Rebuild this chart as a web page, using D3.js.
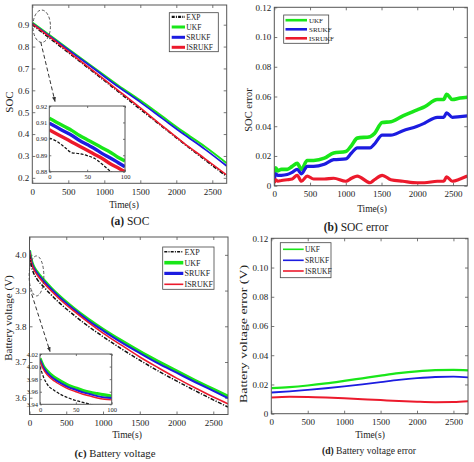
<!DOCTYPE html>
<html>
<head>
<meta charset="utf-8">
<script src="https://cdn.jsdelivr.net/npm/d3@7"></script>
<style>
body { margin: 0; background: #fff; }
text { font-family: "Liberation Serif", "Times New Roman", serif; fill: #222; }
</style>
</head>
<body>
<div id="container"></div>
<script>
let w = 474;
let h = 462;

// ---- DATA ----
let seriesNames = ["EXP", "UKF", "SRUKF", "ISRUKF"];

// (a) SOC
let socTime = [0, 300, 600, 900, 1200, 1500, 1800, 2100, 2400, 2700];
let socExp    = [0.900, 0.824, 0.748, 0.671, 0.593, 0.514, 0.436, 0.358, 0.282, 0.207];
let socUkf    = [0.910, 0.838, 0.765, 0.693, 0.621, 0.554, 0.482, 0.410, 0.342, 0.267];
let socSrukf  = [0.906, 0.834, 0.761, 0.688, 0.615, 0.546, 0.473, 0.400, 0.330, 0.254];
let socIsrukf = [0.904, 0.829, 0.752, 0.675, 0.598, 0.520, 0.439, 0.360, 0.287, 0.213];

// (a) inset, first 100 s
let socInTime   = [0, 10, 20, 30, 40, 50, 60, 70, 80, 90, 100];
let socInExp    = [0.9005, 0.8985, 0.895, 0.8915, 0.891, 0.8898, 0.888, 0.8845, 0.8805, 0.8775, 0.875];
let socInUkf    = [0.9125, 0.910, 0.9075, 0.905, 0.902, 0.8995, 0.897, 0.8945, 0.892, 0.889, 0.8865];
let socInSrukf  = [0.9095, 0.907, 0.9045, 0.902, 0.899, 0.8965, 0.894, 0.891, 0.8885, 0.8858, 0.883];
let socInIsrukf = [0.9055, 0.903, 0.9005, 0.898, 0.8955, 0.893, 0.8905, 0.888, 0.885, 0.8825, 0.880];

// (b) SOC error
let errTime = [0, 20, 50, 100, 180, 250, 320, 380, 460, 550, 700, 830, 1000, 1080, 1160, 1340, 1400, 1510, 1630, 1800, 2000, 2100, 2280, 2370, 2410, 2490, 2600, 2700];
let errUkf    = [0.008, 0.012, 0.010, 0.011, 0.011, 0.013, 0.015, 0.011, 0.017, 0.017, 0.0185, 0.022, 0.023, 0.027, 0.032, 0.033, 0.035, 0.0425, 0.043, 0.047, 0.051, 0.053, 0.058, 0.058, 0.0615, 0.058, 0.059, 0.0595];
let errSrukf  = [0.004, 0.008, 0.007, 0.007, 0.0075, 0.009, 0.011, 0.008, 0.013, 0.013, 0.0145, 0.0175, 0.018, 0.022, 0.0255, 0.0255, 0.028, 0.034, 0.034, 0.037, 0.040, 0.042, 0.046, 0.046, 0.049, 0.046, 0.0465, 0.047];
let errIsrukf = [0.002, 0.004, 0.003, 0.0035, 0.004, 0.0045, 0.007, 0.003, 0.0065, 0.0045, 0.0045, 0.005, 0.003, 0.005, 0.0065, 0.002, 0.004, 0.007, 0.004, 0.003, 0.002, 0.002, 0.003, 0.003, 0.006, 0.003, 0.0045, 0.0065];

// (c) battery voltage
let vTime   = [0, 25, 50, 100, 200, 300, 400, 600, 800, 1000, 1250, 1500, 1750, 2000, 2250, 2500, 2700];
let vExp    = [4.000, 3.968, 3.952, 3.933, 3.909, 3.887, 3.867, 3.832, 3.800, 3.771, 3.737, 3.705, 3.675, 3.647, 3.620, 3.594, 3.574];
let vUkf    = [4.013, 3.985, 3.970, 3.953, 3.928, 3.906, 3.886, 3.851, 3.820, 3.792, 3.760, 3.730, 3.702, 3.675, 3.649, 3.624, 3.604];
let vSrukf  = [4.011, 3.982, 3.967, 3.950, 3.925, 3.903, 3.883, 3.848, 3.816, 3.788, 3.755, 3.725, 3.696, 3.670, 3.644, 3.619, 3.599];
let vIsrukf = [4.009, 3.979, 3.963, 3.945, 3.920, 3.898, 3.878, 3.843, 3.811, 3.781, 3.747, 3.714, 3.684, 3.655, 3.628, 3.602, 3.583];

// (c) inset, first 100 s
let vInTime   = [0, 5, 10, 20, 30, 40, 50, 60, 70, 80, 90, 100];
let vInExp    = [4.000, 3.983, 3.972, 3.962, 3.955, 3.950, 3.946, 3.943, 3.940, 3.937, 3.934, 3.932];
let vInUkf    = [4.013, 4.000, 3.993, 3.983, 3.976, 3.970, 3.966, 3.962, 3.959, 3.957, 3.955, 3.953];
let vInSrukf  = [4.011, 3.998, 3.990, 3.980, 3.973, 3.967, 3.963, 3.959, 3.956, 3.953, 3.951, 3.950];
let vInIsrukf = [4.009, 3.995, 3.987, 3.977, 3.970, 3.964, 3.960, 3.956, 3.953, 3.950, 3.948, 3.947];

// (d) battery voltage error
let vErrTime   = [0, 250, 500, 750, 1000, 1250, 1500, 1750, 2000, 2250, 2500, 2700];
let vErrUkf    = [0.0175, 0.0182, 0.0193, 0.0207, 0.0224, 0.0242, 0.026, 0.0277, 0.029, 0.0298, 0.0300, 0.0297];
let vErrSrukf  = [0.0145, 0.0153, 0.0163, 0.0174, 0.0187, 0.0201, 0.0216, 0.0231, 0.0243, 0.0251, 0.0253, 0.0249];
let vErrIsrukf = [0.011, 0.0116, 0.0115, 0.0111, 0.0105, 0.0099, 0.0093, 0.0087, 0.0082, 0.0079, 0.008, 0.0085];

let timeTicks = [0, 500, 1000, 1500, 2000, 2500];
let insetTimeTicks = [0, 50, 100];
let socTicks = [0.2, 0.3, 0.4, 0.5, 0.6, 0.7, 0.8, 0.9];
let socInTicks = [0.88, 0.89, 0.90, 0.91, 0.92];
let errTicks = [0, 0.02, 0.04, 0.06, 0.08, 0.10, 0.12];
let vTicks = [3.6, 3.7, 3.8, 3.9, 4.0];
let vInTicks = [3.94, 3.96, 3.98, 4.00, 4.02];

// colours / styles
let colors = { EXP: "#111", UKF: "#19e619", SRUKF: "#1c1ce0", ISRUKF: "#ec1a2c" };
let serif = "'Liberation Serif', 'Times New Roman', serif";

let viz = d3.select("#container").append("svg")
    .attr("width", w)
    .attr("height", h)
    .style("background-color", "white");

let defs = viz.append("defs");
defs.append("marker")
    .attr("id", "arrow")
    .attr("viewBox", "0 0 10 10")
    .attr("refX", 9).attr("refY", 5)
    .attr("markerWidth", 5).attr("markerHeight", 5)
    .attr("orient", "auto")
  .append("path")
    .attr("d", "M0,1 L10,5 L0,9 Z")
    .attr("fill", "#333");

let clipCount = 0;

// draws a boxed MATLAB-style axes, returns scales + group
function makeAxes(box, xDom, yDom, xTicks, yTicks, opt) {
  let g = viz.append("g");
  let x = d3.scaleLinear().domain(xDom).range([box.x0, box.x1]);
  let y = d3.scaleLinear().domain(yDom).range([box.y1, box.y0]);
  let tl = opt.tick;

  g.append("rect")
    .attr("x", box.x0).attr("y", box.y0)
    .attr("width", box.x1 - box.x0).attr("height", box.y1 - box.y0)
    .attr("fill", "white");

  let bottom = g.append("g").attr("transform", "translate(0," + box.y1 + ")")
    .call(d3.axisBottom(x).tickValues(xTicks).tickSize(-tl).tickPadding(opt.xPad).tickFormat(opt.xFmt || d3.format("d")));
  let top = g.append("g").attr("transform", "translate(0," + box.y0 + ")")
    .call(d3.axisTop(x).tickValues(xTicks).tickSize(-tl).tickFormat(""));
  let left = g.append("g").attr("transform", "translate(" + box.x0 + ",0)")
    .call(d3.axisLeft(y).tickValues(yTicks).tickSize(-tl).tickPadding(opt.yPad).tickFormat(opt.yFmt));
  let right = g.append("g").attr("transform", "translate(" + box.x1 + ",0)")
    .call(d3.axisRight(y).tickValues(yTicks).tickSize(-tl).tickFormat(""));

  [bottom, top, left, right].forEach(function(a){
    a.select(".domain").remove();
    a.attr("font-family", serif);
    a.selectAll(".tick line").attr("stroke", "#555").attr("stroke-width", 0.8);
    a.selectAll("text")
      .style("font-family", serif)
      .style("font-size", opt.font + "px")
      .attr("fill", "#222");
  });

  clipCount++;
  let id = "clip" + clipCount;
  defs.append("clipPath").attr("id", id).append("rect")
    .attr("x", box.x0).attr("y", box.y0)
    .attr("width", box.x1 - box.x0).attr("height", box.y1 - box.y0);
  let plot = g.append("g").attr("clip-path", "url(#" + id + ")");

  g.append("rect")
    .attr("x", box.x0).attr("y", box.y0)
    .attr("width", box.x1 - box.x0).attr("height", box.y1 - box.y0)
    .attr("fill", "none").attr("stroke", "#555").attr("stroke-width", 1);

  return { g: g, plot: plot, x: x, y: y };
}

function drawLine(ax, times, vals, name, width) {
  let line = d3.line()
    .curve(d3.curveMonotoneX)
    .x(function(d, i){ return ax.x(times[i]); })
    .y(function(d){ return ax.y(d); });
  let p = ax.plot.append("path")
    .datum(vals)
    .attr("d", line)
    .attr("fill", "none")
    .attr("stroke", colors[name])
    .attr("stroke-width", width)
    .attr("stroke-linejoin", "round");
  if (name == "EXP") p.attr("stroke-dasharray", "4,1.5,1.2,1.5");
  return p;
}

function legend(box, names, rowY, seg, textX, font, widths) {
  let g = viz.append("g");
  g.append("rect")
    .attr("x", box.x).attr("y", box.y).attr("width", box.w).attr("height", box.h)
    .attr("fill", "white").attr("stroke", "#444").attr("stroke-width", 0.8);
  names.forEach(function(n, i){
    let l = g.append("line")
      .attr("x1", seg[0]).attr("x2", seg[1])
      .attr("y1", rowY[i]).attr("y2", rowY[i])
      .attr("stroke", colors[n]).attr("stroke-width", widths[i]);
    if (n == "EXP") l.attr("stroke-dasharray", "3,1.2,1,1.2");
    g.append("text")
      .attr("x", textX).attr("y", rowY[i])
      .attr("dy", "0.35em")
      .style("font-size", font + "px")
      .text(n);
  });
}

function label(x, y, txt, size, rotate, len) {
  let t = viz.append("text")
    .attr("x", x).attr("y", y)
    .attr("text-anchor", "middle")
    .attr("dy", "0.35em")
    .style("font-size", size + "px")
    .text(txt);
  if (len) t.attr("textLength", len).attr("lengthAdjust", "spacingAndGlyphs");
  if (rotate) t.attr("transform", "rotate(-90," + x + "," + y + ")");
  return t;
}

function caption(x, y, tag, rest, size) {
  let t = viz.append("text")
    .attr("x", x).attr("y", y)
    .attr("text-anchor", "middle")
    .attr("dy", "0.35em")
    .style("font-size", size + "px");
  t.append("tspan").style("font-weight", "bold").text(tag);
  t.append("tspan").text(" " + rest);
}

// zoom ellipse + dashed arrow, ellipse given in data units of the big axes
function zoomMark(ax, cx, cy, rx, ry, fromT, fromV, toX, toY) {
  let px = ax.x(cx), py = ax.y(cy);
  ax.g.append("ellipse")
    .attr("cx", px).attr("cy", py)
    .attr("rx", Math.abs(ax.x(cx + rx) - px))
    .attr("ry", Math.abs(ax.y(cy + ry) - py))
    .attr("fill", "none").attr("stroke", "#444")
    .attr("stroke-width", 0.9).attr("stroke-dasharray", "3,2");
  ax.g.append("line")
    .attr("x1", ax.x(fromT)).attr("y1", ax.y(fromV))
    .attr("x2", toX).attr("y2", toY)
    .attr("stroke", "#333").attr("stroke-width", 1)
    .attr("stroke-dasharray", "4,2.5")
    .attr("marker-end", "url(#arrow)");
}

let f1 = d3.format(".1f");
let f2 = d3.format(".2f");
let fErr = function(d){ return d == 0 ? "0" : d3.format(".2f")(d); };

let tickFont = 9;
let labFont = 9.5;

// ---------- (a) SOC ----------
let axA = makeAxes({x0: 32.3, x1: 226.7, y0: 5, y1: 183.3}, [0, 2700], [0.175, 0.99],
  timeTicks, socTicks, {tick: 3, xPad: 5, yPad: 3, font: tickFont, yFmt: f1});
drawLine(axA, socTime, socUkf, "UKF", 2);
drawLine(axA, socTime, socSrukf, "SRUKF", 1.8);
drawLine(axA, socTime, socExp, "EXP", 1.8);
drawLine(axA, socTime, socIsrukf, "ISRUKF", 1.6);
zoomMark(axA, 130, 0.893, 122, 0.074, 118, 0.82, 55, 101.5);

let inA = makeAxes({x0: 49.3, x1: 125, y0: 106, y1: 171.7}, [0, 100], [0.88, 0.92],
  insetTimeTicks, socInTicks, {tick: 2, xPad: 3, yPad: 2, font: 6.5, yFmt: f2});
drawLine(inA, socInTime, socInUkf, "UKF", 3.4);
drawLine(inA, socInTime, socInSrukf, "SRUKF", 3.4);
drawLine(inA, socInTime, socInIsrukf, "ISRUKF", 3.4);
drawLine(inA, socInTime, socInExp, "EXP", 1.2).attr("stroke-dasharray", "3,1.5");

legend({x: 169.3, y: 12.7, w: 49, h: 39}, seriesNames, [16.9, 27, 37.3, 47.3], [171.7, 185], 186.3, 7.5, [2.2, 3, 3, 3]);

label(9, 102, "SOC", 11, true);
label(124, 204.5, "Time(s)", labFont);
caption(130, 220.5, "(a)", "SOC", 11.5);

// ---------- (b) SOC error ----------
let axB = makeAxes({x0: 274.3, x1: 467.3, y0: 7.3, y1: 185.7}, [0, 2700], [0, 0.12],
  timeTicks, errTicks, {tick: 3, xPad: 5, yPad: 3, font: tickFont, yFmt: fErr});
drawLine(axB, errTime, errUkf, "UKF", 3.6);
drawLine(axB, errTime, errSrukf, "SRUKF", 3.2);
drawLine(axB, errTime, errIsrukf, "ISRUKF", 3.2);
legend({x: 283.7, y: 15, w: 45, h: 28.3}, ["UKF", "SRUKF", "ISRUKF"], [20.2, 29.3, 38.3], [285.5, 307], 309, 7, [2.6, 2.6, 2.6]);

label(248, 110, "SOC error", 10.5, true);
label(372, 208.3, "Time(s)", labFont);
caption(356, 226.5, "(b)", "SOC error", 11.5);

// ---------- (c) Battery voltage ----------
let axC = makeAxes({x0: 29.5, x1: 228, y0: 237, y1: 414.5}, [0, 2700], [3.553, 4.05],
  timeTicks, vTicks, {tick: 3, xPad: 5, yPad: 3, font: tickFont, yFmt: f1});
drawLine(axC, vTime, vUkf, "UKF", 3);
drawLine(axC, vTime, vSrukf, "SRUKF", 2);
drawLine(axC, vTime, vIsrukf, "ISRUKF", 1.5);
drawLine(axC, vTime, vExp, "EXP", 1.5);
zoomMark(axC, 95, 3.941, 100, 0.056, 30, 3.89, 50, 351.5);

let inC = makeAxes({x0: 40, x1: 111.7, y0: 354, y1: 404.3}, [0, 100], [3.94, 4.02],
  insetTimeTicks, vInTicks, {tick: 2, xPad: 3, yPad: 2, font: 6.5, yFmt: f2});
drawLine(inC, vInTime, vInUkf, "UKF", 3.2);
drawLine(inC, vInTime, vInSrukf, "SRUKF", 2);
drawLine(inC, vInTime, vInIsrukf, "ISRUKF", 1.4);
drawLine(inC, vInTime, vInExp, "EXP", 1.2).attr("stroke-dasharray", "3,1.5");

legend({x: 162.7, y: 247, w: 51.3, h: 42.3}, seriesNames, [251.8, 262.7, 273.4, 284.3], [164.3, 183.3], 184.5, 8, [1.6, 3.6, 3.2, 1.6]);

label(8, 318, "Battery voltage (V)", 11, true);
label(127, 435, "Time(s)", labFont);
caption(115, 453, "(c)", "Battery voltage", 10.8);

// ---------- (d) Battery voltage error ----------
let axD = makeAxes({x0: 271.3, x1: 468, y0: 238.3, y1: 413.7}, [0, 2700], [0, 0.12],
  timeTicks, errTicks, {tick: 3, xPad: 5, yPad: 3, font: tickFont, yFmt: fErr});
drawLine(axD, vErrTime, vErrUkf, "UKF", 2.2);
drawLine(axD, vErrTime, vErrSrukf, "SRUKF", 1.8);
drawLine(axD, vErrTime, vErrIsrukf, "ISRUKF", 2);
legend({x: 280.3, y: 242.7, w: 50.7, h: 35}, ["UKF", "SRUKF", "ISRUKF"], [249.3, 260.3, 271], [283, 303.7], 305, 7.5, [1.6, 1.6, 1.6]);

label(243, 334, "Battery voltage error (V)", 10.5, true, 138);
label(370, 435, "Time(s)", labFont);
caption(369, 451, "(d)", "Battery voltage error", 9.6);
</script>
</body>
</html>
